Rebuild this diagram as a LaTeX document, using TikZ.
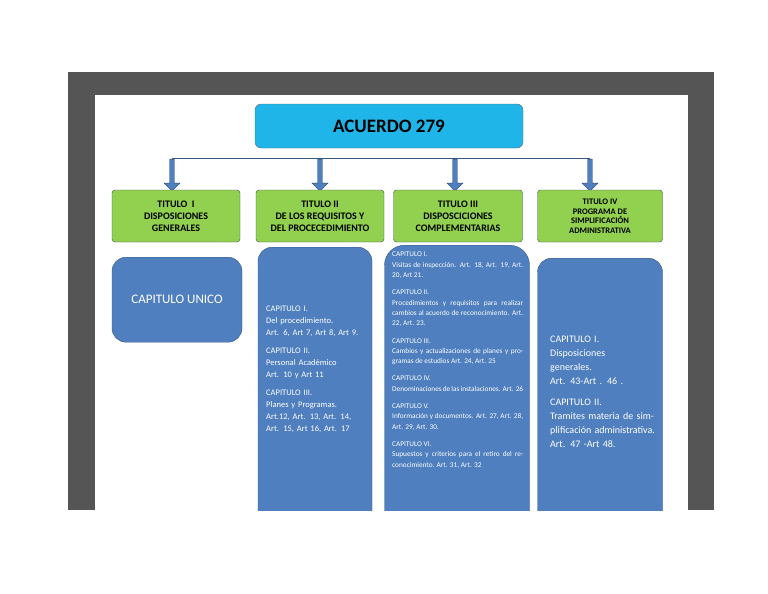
\documentclass[tikz,border=0pt]{standalone}
\usepackage{fontspec}
\setmainfont{Carlito}
\usetikzlibrary{shapes.arrows}
\definecolor{bl}{HTML}{4F7FBE}
\definecolor{gr}{HTML}{92D050}
\definecolor{cy}{HTML}{1FB5E8}
\definecolor{fr}{HTML}{555555}
\tikzset{x=1pt,y=-1pt,
 tit/.style={draw=black!70,fill=gr,rounded corners=3pt,align=center,font=\bfseries\fontsize{10}{12}\selectfont,minimum height=52pt},
 capbox/.style={draw=bl!70!black,fill=bl,rounded corners=14pt,anchor=north},
 captext/.style={text=white,anchor=north west,inner sep=0pt},
 darr/.style={single arrow,draw=bl!60!black,fill=bl,shape border rotate=270,minimum height=32pt,single arrow head extend=3pt,minimum width=16pt,inner sep=1pt}}
\begin{document}
\begin{tikzpicture}
\useasboundingbox (0,0) rectangle (768,594);
\fill[white] (0,0) rectangle (768,594);
\fill[fr] (68,72) rectangle (714,510);
\fill[white] (95,95) rectangle (688,510);
\begin{scope}
\clip (95,95) rectangle (688,510);
\node[draw=black!60,fill=cy,rounded corners=6pt,minimum width=268pt,minimum height=44pt,font=\bfseries\fontsize{19}{20}\selectfont] (ac) at (389,126) {ACUERDO 279};
\coordinate (h1) at (172,158); \coordinate (h4) at (590,158);
\draw[bl!70!black,line width=1pt] (h1) -- (h4);
\foreach \x/\n in {172/a1,320/a2,455/a3,590/a4}{\node[darr] (\n) at (\x,174) {};}
\node[tit,minimum width=128pt] (t1) at (176,216) {TITULO \ I\\DISPOSICIONES\\GENERALES};
\node[tit,minimum width=128pt] (t2) at (320,216) {TITULO II\\DE LOS REQUISITOS Y\\DEL PROCECEDIMIENTO};
\node[tit,minimum width=129pt] (t3) at (458,216) {TITULO III\\DISPOSCICIONES\\COMPLEMENTARIAS};
\node[tit,minimum width=125pt,font=\bfseries\fontsize{8.5}{9.5}\selectfont] (t4) at (600,216) {TITULO IV\\PROGRAMA DE\\SIMPLIFICACIÓN\\ADMINISTRATIVA};
\node[capbox,minimum width=130pt,minimum height=85pt] (c1) at (177,257) {};
\node[text=white,font=\fontsize{13}{14}\selectfont] (c1t) at (177,299) {CAPITULO UNICO};
\node[capbox,minimum width=114pt,minimum height=290pt] (c2) at (315,247) {};
\node[captext,text width=100pt,align=left,font=\fontsize{8.5}{12}\selectfont] (c2t) at (266,306) {CAPITULO I.\\Del procedimiento.\\Art. 6, Art 7, Art 8, Art 9.\\[6pt]CAPITULO II.\\Personal Académico\\Art. 10 y Art 11\\[6pt]CAPITULO III.\\Planes y Programas.\\Art.12, Art. 13, Art. 14, Art. 15, Art 16, Art. 17};
\node[capbox,minimum width=145pt,minimum height=290pt,rounded corners=20pt] (c3) at (457,245) {};
\node[captext,text width=131pt,align=justify,font=\fontsize{7.3}{10.3}\selectfont] (c3t) at (392,252) {CAPITULO I.\\Visitas de inspección. Art. 18, Art. 19, Art. 20, Art 21.\\[7pt]CAPITULO II.\\Procedimientos y requisitos para realizar cambios al acuerdo de reconocimiento. Art. 22, Art. 23.\\[7pt]CAPITULO III.\\Cambios y actualizaciones de planes y programas de estudios Art. 24, Art. 25\\[7pt]CAPITULO IV.\\Denominaciones de las instalaciones. Art. 26\\[7pt]CAPITULO V.\\Información y documentos. Art. 27, Art. 28, Art. 29, Art. 30.\\[7pt]CAPITULO VI.\\Supuestos y criterios para el retiro del reconocimiento. Art. 31, Art. 32};
\node[capbox,minimum width=125pt,minimum height=280pt] (c4) at (600,258) {};
\node[captext,text width=105pt,align=left,font=\fontsize{10}{14}\selectfont] (c4t) at (550,336) {CAPITULO I.\\Disposiciones\\generales.\\Art. 43-Art . 46 .\\[7pt]CAPITULO II.\\Tramites materia de simplificación administrativa.\\Art. 47 -Art 48.};
\end{scope}
\end{tikzpicture}
\end{document}
